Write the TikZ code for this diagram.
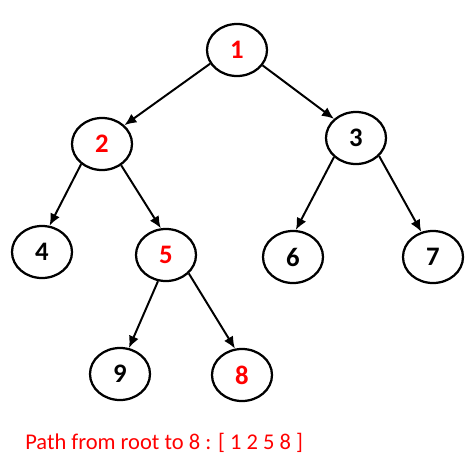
\documentclass[tikz,border=0pt]{standalone}
\usepackage{fontspec}
\setmainfont{Carlito}
\usetikzlibrary{arrows.meta,shapes.geometric}

\begin{document}
\begin{tikzpicture}[x=0.025cm, y=-0.025cm, every node/.style={font=\bfseries\fontsize{19}{22}\selectfont},
  vert/.style={draw, ellipse, line width=1.6pt, minimum width=1.5cm, minimum height=1.3cm, inner sep=0pt},
  onpath/.style={text=red},
  arr/.style={line width=1.4pt, -{Latex[length=3mm, width=2.6mm]}}]
\useasboundingbox (0,0) rectangle (474,474);
\node[vert, onpath] (n1) at (237,50) {1};
\node[vert, onpath] (n2) at (102,144) {2};
\node[vert] (n3) at (356,138) {3};
\node[vert] (n4) at (42,252) {4};
\node[vert, onpath] (n5) at (166,255) {5};
\node[vert] (n6) at (293,257) {6};
\node[vert] (n7) at (433,257) {7};
\node[vert] (n9) at (120,374) {9};
\node[vert, onpath] (n8) at (242,375) {8};
\node[font=\fontsize{16}{19}\selectfont, text=red, anchor=west, inner sep=0pt] (cap) at (25,443) {Path from root to 8 : [ 1 2 5 8 ]};
\draw[arr] (n1.207) -- (n2.40); \draw[arr] (n1.329) -- (n3.139);
\draw[arr] (n2.224) -- (n4.74); \draw[arr] (n2.312) -- (n5.101);
\draw[arr] (n3.221) -- (n6.84); \draw[arr] (n3.322) -- (n7.115);
\draw[arr] (n5.253) -- (n9.71); \draw[arr] (n5.321) -- (n8.105);
\end{tikzpicture}
\end{document}
